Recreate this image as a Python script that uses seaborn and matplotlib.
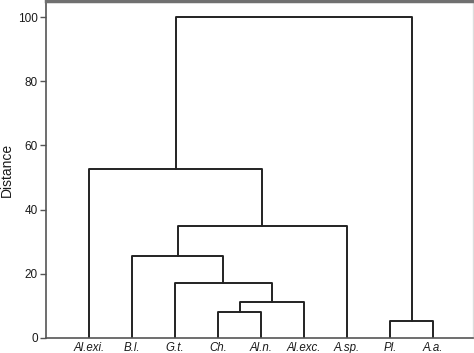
import matplotlib
matplotlib.use("Agg")
import matplotlib.pyplot as plt
import seaborn as sns
import pandas as pd

# Leaves (left to right)
leaves = ["Al.exi.", "B.l.", "G.t.", "Ch.", "Al.n.", "Al.exc.", "A.sp.", "Pl.", "A.a."]
# Merges: (left child, right child, height); children are leaf names or merge indices
merge_left = ["Ch.", 0, "G.t.", "B.l.", 3, "Al.exi.", "Pl.", 5]
merge_right = ["Al.n.", "Al.exc.", 1, 2, "A.sp.", 4, "A.a.", 6]
merge_height = [8.2, 11.3, 17.0, 25.6, 34.9, 52.8, 5.4, 100.0]
yticks = [0, 20, 40, 60, 80, 100]

sns.set_style("ticks")
plt.rcParams["font.family"] = ["Liberation Sans", "DejaVu Sans"]

leaf_x = {name: i + 1 for i, name in enumerate(leaves)}
node_x, node_y = {}, {}

def pos(c):
    if isinstance(c, str):
        return leaf_x[c], 0.0
    return node_x[c], node_y[c]

rows = []
for k, (l, r, h) in enumerate(zip(merge_left, merge_right, merge_height)):
    lx, ly = pos(l)
    rx, ry = pos(r)
    for j, (xx, yy) in enumerate([(lx, ly), (lx, h), (rx, h), (rx, ry)]):
        rows.append({"link": k, "order": j, "x": xx, "y": yy})
    node_x[k] = (lx + rx) / 2
    node_y[k] = h
df = pd.DataFrame(rows)

fig = plt.figure(figsize=(4.74, 3.53), dpi=100)
ax = fig.add_axes([46 / 474, 15 / 353, 427 / 474, 337 / 353])
sns.lineplot(data=df, x="x", y="y", units="link", estimator=None, sort=False,
             color="#222222", linewidth=1.4, ax=ax, legend=False)

ax.set_xlim(0, 9.93)
ax.set_ylim(0, 105)
ax.set_yticks(yticks)
ax.set_yticklabels([str(v) for v in yticks], fontsize=8.5, color="#1a1a1a")
ax.set_xticks(range(1, len(leaves) + 1))
ax.set_xticklabels(leaves, fontsize=8.3, style="italic", color="#1a1a1a")
ax.tick_params(axis="x", length=0, pad=3)
ax.tick_params(axis="y", length=4, width=1, color="#555555", pad=2)
ax.set_xlabel("")
ax.set_ylabel("Distance", fontsize=10, labelpad=3, color="#1a1a1a")
for side in ["left", "bottom"]:
    ax.spines[side].set_color("#555555")
    ax.spines[side].set_linewidth(1.2)
ax.spines["top"].set_visible(True)
ax.spines["top"].set_color("#707070")
ax.spines["top"].set_linewidth(2.5)
ax.spines["right"].set_visible(True)
ax.spines["right"].set_color("#dddddd")
ax.spines["right"].set_linewidth(1)

fig.savefig("out.png", dpi=100)
